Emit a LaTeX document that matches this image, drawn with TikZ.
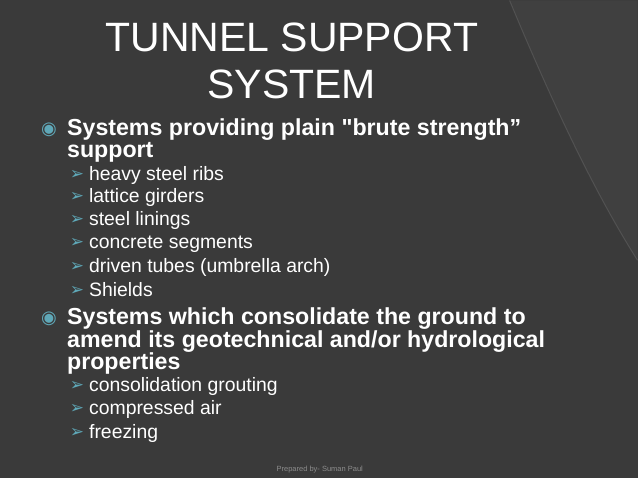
\documentclass[tikz,border=0pt]{standalone}
\usepackage{fontspec}
\setmainfont{Liberation Sans}
\newfontfamily\symf{DejaVu Sans}
\definecolor{bg}{HTML}{3A3A3A}
\definecolor{bg2}{HTML}{404040}
\definecolor{teal}{HTML}{5FA8B8}
\begin{document}
\begin{tikzpicture}[x=1pt,y=-1pt,
  main/.style={anchor=base west,text=white,font=\bfseries\fontsize{23.2}{25}\selectfont,inner sep=0pt,yshift=-8pt},
  sub/.style={anchor=base west,text=white,font=\fontsize{19.4}{21}\selectfont,inner sep=0pt,yshift=-7pt},
  mb/.style={anchor=base,text=teal,font=\symf\fontsize{18}{18}\selectfont,inner sep=0pt,yshift=-6pt},
  sb/.style={anchor=base,text=teal,font=\symf\fontsize{17}{17}\selectfont,inner sep=0pt,yshift=-6pt}]
\fill[bg] (0,0) rectangle (638,478);
\fill[bg2] (510,0) .. controls (560,120) and (600,200) .. (638,260) -- (638,0) -- cycle;
\draw[black!60,line width=1pt,opacity=0.5] (510,0) .. controls (560,120) and (600,200) .. (638,260);
\useasboundingbox (0,0) rectangle (638,478);
\node[text=white,font=\fontsize{41}{41}\selectfont,inner sep=0pt] (t1) at (292,37) {TUNNEL SUPPORT};
\node[text=white,font=\fontsize{41}{41}\selectfont,inner sep=0pt] (t2) at (292,84) {SYSTEM};
\node[mb] (b1) at (49,128) {◉};
\node[main] (m1a) at (67,127) {Systems providing plain \textquotedbl brute strength”};
\node[main] (m1b) at (67,149) {support};
\foreach \y/\t [count=\i] in {173/heavy steel ribs,195/lattice girders,218/steel linings,241/concrete segments,265/driven tubes (umbrella arch),289/Shields}{
  \node[sb] (sa\i) at (77,\y) {➢};
  \node[sub] (s\i) at (89,\y) {\t};
}
\node[mb] (b2) at (49,317) {◉};
\node[main] (m2a) at (67,316) {Systems which consolidate the ground to};
\node[main] (m2b) at (67,339) {amend its geotechnical and/or hydrological};
\node[main] (m2c) at (67,361) {properties};
\foreach \y/\t [count=\i] in {384/consolidation grouting,407/compressed air,431/freezing}{
  \node[sb] (ta\i) at (77,\y) {➢};
  \node[sub] (u\i) at (89,\y) {\t};
}
\node[text=black!45,font=\fontsize{7.5}{8}\selectfont,inner sep=0pt] (f) at (320,469) {Prepared by- Suman Paul};
\end{tikzpicture}
\end{document}
